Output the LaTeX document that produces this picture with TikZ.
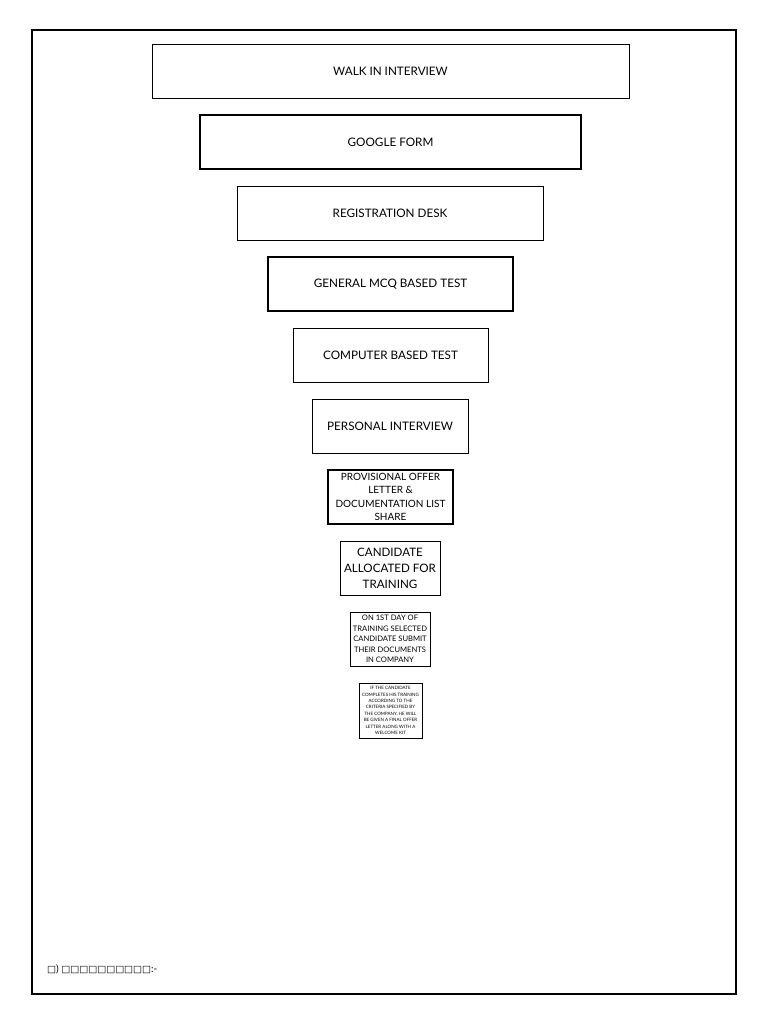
\documentclass[tikz,border=0pt]{standalone}
\usepackage{fontspec}
\setmainfont{Lato}
\newfontfamily\dejavu{DejaVu Sans}
\begin{document}
\begin{tikzpicture}[x=1pt,y=-1pt,
  stepbox/.style={draw=black, line width=0.9pt, inner sep=0pt, align=center, font=\fontsize{11.7}{14}\selectfont},
]
\useasboundingbox (0,0) rectangle (768,1024);
\node[draw=black, line width=1.6pt, minimum width=704pt, minimum height=964pt, inner sep=0pt] (frame) at (384,512) {};
\node[stepbox, minimum width=477pt, minimum height=54pt] (b1) at (390.5,71) {WALK IN INTERVIEW};
\node[stepbox, line width=1.1pt, minimum width=381pt, minimum height=54pt] (b2) at (390.5,142) {GOOGLE FORM};
\node[stepbox, minimum width=306pt, minimum height=54pt] (b3) at (390,213) {REGISTRATION DESK};
\node[stepbox, line width=1.3pt, minimum width=245pt, minimum height=54pt] (b4) at (390.5,284) {GENERAL MCQ BASED TEST};
\node[stepbox, line width=1pt, minimum width=195pt, minimum height=54pt] (b5) at (390.5,355) {COMPUTER BASED TEST};
\node[stepbox, minimum width=156pt, minimum height=54pt] (b6) at (390,426) {PERSONAL INTERVIEW};
\node[stepbox, line width=1.2pt, minimum width=125pt, minimum height=54pt, font=\fontsize{10}{13.4}\selectfont] (b7) at (390.5,497) {PROVISIONAL OFFER\\LETTER \&\\DOCUMENTATION LIST\\SHARE};
\node[stepbox, minimum width=100pt, minimum height=54pt, font=\fontsize{11.6}{16}\selectfont] (b8) at (390,568) {CANDIDATE\\ALLOCATED FOR\\TRAINING};
\node[stepbox, line width=0.8pt, minimum width=80pt, minimum height=54pt, font=\fontsize{7.6}{10.6}\selectfont] (b9) at (390,639) {ON 1ST DAY OF\\TRAINING SELECTED\\CANDIDATE SUBMIT\\THEIR DOCUMENTS\\IN COMPANY};
\node[stepbox, line width=0.8pt, minimum width=63pt, minimum height=55pt, font=\fontsize{4.5}{6.4}\selectfont] (b10) at (390.5,710.5) {IF THE CANDIDATE\\COMPLETES HIS TRAINING\\ACCORDING TO THE\\CRITERIA SPECIFIED BY\\THE COMPANY, HE WILL\\BE GIVEN A FINAL OFFER\\LETTER ALONG WITH A\\WELCOME KIT};
\node[anchor=west, inner sep=0pt, font=\fontsize{10}{12}\selectfont] (foot) at (47,969) {{\dejavu\fontsize{9.5}{12}\selectfont □})~{\dejavu\fontsize{9.5}{12}\selectfont □□□□□□□□□□}:-};
\end{tikzpicture}
\end{document}
